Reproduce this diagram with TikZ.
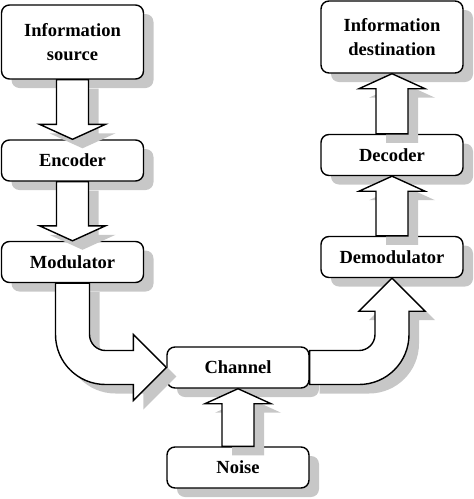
\documentclass[tikz,border=0pt]{standalone}
\usepackage{fontspec}
\setmainfont{Liberation Serif}
\usetikzlibrary{calc,shadows}
\begin{document}
\begin{tikzpicture}[x=1pt,y=-1pt,
  stage/.style={draw,line width=1.4pt,rounded corners=8pt,fill=white,
    minimum width=142pt,minimum height=41pt,inner sep=0pt,align=center,
    font=\fontsize{18.5}{24}\selectfont\bfseries,
    drop shadow={shadow xshift=10pt,shadow yshift=-9pt,fill=black!22,opacity=1}},
  pipe/.style={draw,line width=1.4pt,line join=miter,fill=white,
    drop shadow={shadow xshift=10pt,shadow yshift=-9pt,fill=black!22,opacity=1}}]
\useasboundingbox (0,0) rectangle (474,499);
\node[stage,minimum height=74pt] (src) at (72.5,42) {Information\\source};
\node[stage] (enc) at (72.5,160.5) {Encoder};
\node[stage] (mod) at (72.5,262) {Modulator};
\node[stage] (chan) at (238,367.5) {Channel};
\node[stage] (noise) at (238,467.5) {Noise};
\node[stage] (demod) at (392,257) {Demodulator};
\node[stage] (dec) at (392,155) {Decoder};
\node[stage,minimum height=72pt] (dest) at (392,37) {Information\\destination};
\draw[pipe] ($(src.south)+(-16,0)$) -- ($(enc.north)+(-16,-15)$) -- ($(enc.north)+(-33,-15)$) -- (enc.north) -- ($(enc.north)+(33,-15)$) -- ($(enc.north)+(16,-15)$) -- ($(src.south)+(16,0)$) -- cycle;
\draw[pipe] ($(enc.south)+(-16,0)$) -- ($(mod.north)+(-16,-15)$) -- ($(mod.north)+(-33,-15)$) -- (mod.north) -- ($(mod.north)+(33,-15)$) -- ($(mod.north)+(16,-15)$) -- ($(enc.south)+(16,0)$) -- cycle;
\draw[pipe] let \p1=(mod.south), \p2=(chan.west) in (\x1-17pt,\y1) -- (\x1-17pt,\y2+33pt) to[out=-90,in=180] (\x1+33pt,\y2-17pt) -- (\x2-33pt,\y2-17pt) -- (\x2-33pt,\y2-33pt) -- (\p2) -- (\x2-33pt,\y2+33pt) -- (\x2-33pt,\y2+17pt) -- (\x1+33pt,\y2+17pt) to[out=180,in=-90] (\x1+17pt,\y2+33pt) -- (\x1+17pt,\y1) -- cycle;
\draw[pipe] ($(noise.north)+(-16,0)$) -- ($(chan.south)+(-16,15)$) -- ($(chan.south)+(-33,15)$) -- (chan.south) -- ($(chan.south)+(33,15)$) -- ($(chan.south)+(16,15)$) -- ($(noise.north)+(16,0)$) -- cycle;
\draw[pipe] let \p1=(chan.east), \p2=(demod.south) in (\x1,\y1+17pt) -- (\x2-33pt,\y1+17pt) to[out=0,in=-90] (\x2-17pt,\y1+33pt) -- (\x2-17pt,\y2-33pt) -- (\x2-33pt,\y2-33pt) -- (\p2) -- (\x2+33pt,\y2-33pt) -- (\x2+17pt,\y2-33pt) -- (\x2+17pt,\y1+33pt) to[out=-90,in=0] (\x2-33pt,\y1-17pt) -- (\x1,\y1-17pt) -- cycle;
\draw[pipe] ($(demod.north)+(-16,0)$) -- ($(dec.south)+(-16,15)$) -- ($(dec.south)+(-33,15)$) -- (dec.south) -- ($(dec.south)+(33,15)$) -- ($(dec.south)+(16,15)$) -- ($(demod.north)+(16,0)$) -- cycle;
\draw[pipe] ($(dec.north)+(-16,0)$) -- ($(dest.south)+(-16,15)$) -- ($(dest.south)+(-33,15)$) -- (dest.south) -- ($(dest.south)+(33,15)$) -- ($(dest.south)+(16,15)$) -- ($(dec.north)+(16,0)$) -- cycle;
\end{tikzpicture}
\end{document}
